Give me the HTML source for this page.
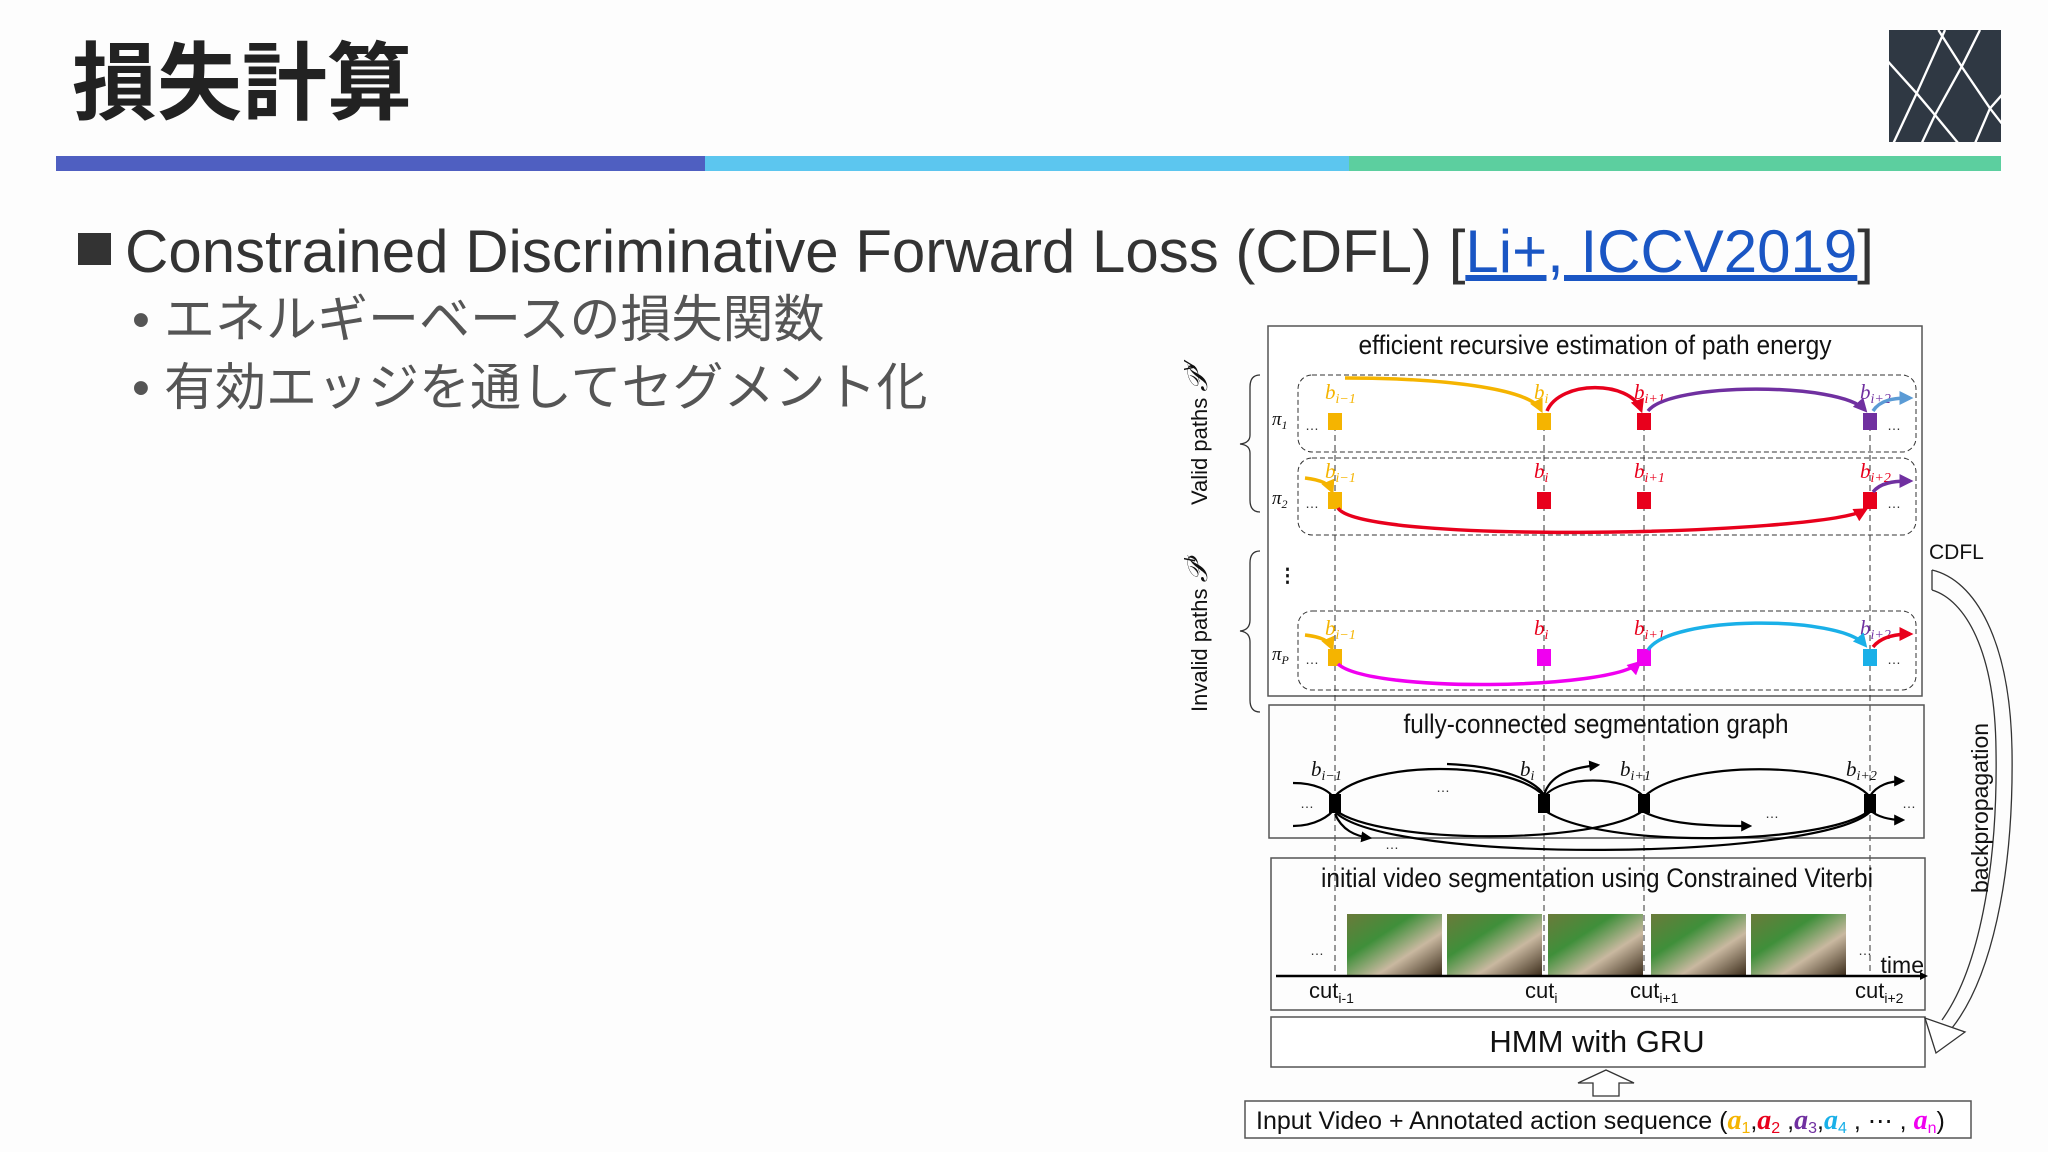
<!DOCTYPE html>
<html><head><meta charset="utf-8">
<style>
html,body{margin:0;padding:0;background:#fdfdfd;}
svg{display:block;}
.dg{font-family:"Liberation Sans Narrow","Liberation Sans",sans-serif;}
</style></head>
<body>
<svg width="2048" height="1152" viewBox="0 0 2048 1152" xmlns="http://www.w3.org/2000/svg">
<defs>
<marker id="ay" markerWidth="4" markerHeight="4" refX="3" refY="2" orient="auto" markerUnits="strokeWidth"><path d="M0,0 L4,2 L0,4 z" fill="#f5b400"/></marker>
<marker id="ar" markerWidth="4" markerHeight="4" refX="3" refY="2" orient="auto" markerUnits="strokeWidth"><path d="M0,0 L4,2 L0,4 z" fill="#e8001c"/></marker>
<marker id="ap" markerWidth="4" markerHeight="4" refX="3" refY="2" orient="auto" markerUnits="strokeWidth"><path d="M0,0 L4,2 L0,4 z" fill="#7030a0"/></marker>
<marker id="ab" markerWidth="4" markerHeight="4" refX="3" refY="2" orient="auto" markerUnits="strokeWidth"><path d="M0,0 L4,2 L0,4 z" fill="#5b9bd5"/></marker>
<marker id="ac" markerWidth="4" markerHeight="4" refX="3" refY="2" orient="auto" markerUnits="strokeWidth"><path d="M0,0 L4,2 L0,4 z" fill="#1ab0e8"/></marker>
<marker id="am" markerWidth="4" markerHeight="4" refX="3" refY="2" orient="auto" markerUnits="strokeWidth"><path d="M0,0 L4,2 L0,4 z" fill="#f000f0"/></marker>
<marker id="ak" markerWidth="5" markerHeight="5" refX="4" refY="2.5" orient="auto" markerUnits="strokeWidth"><path d="M0,0 L5,2.5 L0,5 z" fill="#000"/></marker>
<clipPath id="logoclip"><rect x="1889" y="30" width="112" height="112"/></clipPath>
<linearGradient id="fr" x1="0" y1="0" x2="1" y2="1"><stop offset="0" stop-color="#6a7a3a"/><stop offset="0.35" stop-color="#3f8f3a"/><stop offset="0.65" stop-color="#c9b8a0"/><stop offset="1" stop-color="#3a2b1a"/></linearGradient>
</defs>

<text x="72" y="113" font-family="'Noto Sans CJK JP',sans-serif" font-weight="bold" font-size="85" fill="#222">損失計算</text>
<g>
<rect x="1889" y="30" width="112" height="112" fill="#2f3843"/>
<g clip-path="url(#logoclip)">
<g transform="translate(1880,20) scale(0.3333)" stroke="#fff" stroke-width="7" fill="none">
<polyline points="175,30 245,140 330,265 365,310"/>
<polyline points="195,30 110,220 40,370"/>
<polyline points="300,30 245,140 165,285 125,370"/>
<polyline points="20,120 110,220 165,285 235,370"/>
<polyline points="370,220 330,265 285,370"/>
</g>
</g>
</g>
<g>
<rect x="56" y="156" width="649" height="15" fill="#4f5fc1"/>
<rect x="705" y="156" width="644" height="15" fill="#5cc6ef"/>
<rect x="1349" y="156" width="652" height="15" fill="#5ccf9f"/>
</g>

<rect x="78" y="233" width="33" height="32" fill="#333"/>
<text x="125" y="272" font-family="'Liberation Sans',sans-serif" font-size="60" fill="#333">Constrained Discriminative Forward Loss (CDFL) [<tspan fill="#1a56c4" text-decoration="underline">Li+, ICCV2019</tspan>]</text>
<text x="132" y="337" font-family="'Liberation Sans','Noto Sans CJK JP',sans-serif" font-size="51" fill="#555">• エネルギーベースの損失関数</text>
<text x="132" y="405" font-family="'Liberation Sans','Noto Sans CJK JP',sans-serif" font-size="51" fill="#555">• 有効エッジを通してセグメント化</text>

<g class="dg">
<rect x="1268" y="326" width="654" height="370" fill="#fff" stroke="#555" stroke-width="1.5"/>
<text x="1595" y="354" font-size="27" text-anchor="middle" fill="#111" textLength="473" lengthAdjust="spacingAndGlyphs">efficient recursive estimation of path energy</text>
<rect x="1298" y="375" width="618" height="77" rx="14" fill="none" stroke="#333" stroke-dasharray="5,3"/>
<rect x="1298" y="458" width="618" height="77" rx="14" fill="none" stroke="#333" stroke-dasharray="5,3"/>
<rect x="1298" y="611" width="618" height="79" rx="14" fill="none" stroke="#333" stroke-dasharray="5,3"/>

<text transform="translate(1207,505) rotate(-90)" font-family="'Liberation Sans',sans-serif" font-size="22" fill="#111">Valid paths <tspan font-family="'Liberation Serif',serif" font-style="italic" font-size="28">𝒫</tspan><tspan font-size="16" dy="-12" font-style="italic">V</tspan></text>
<text transform="translate(1207,712) rotate(-90)" font-family="'Liberation Sans',sans-serif" font-size="22" fill="#111">Invalid paths <tspan font-family="'Liberation Serif',serif" font-style="italic" font-size="28">𝒫</tspan><tspan font-size="16" dy="-12" font-style="italic">I</tspan></text>
<path d="M1260,375 Q1250,375 1250,387 L1250,435 Q1250,443 1240,444 Q1250,445 1250,453 L1250,500 Q1250,512 1260,512" fill="none" stroke="#333" stroke-width="1.3"/>
<path d="M1260,551 Q1250,551 1250,563 L1250,620 Q1250,630 1240,631 Q1250,632 1250,642 L1250,700 Q1250,712 1260,712" fill="none" stroke="#333" stroke-width="1.3"/>
<g font-family="'Liberation Serif',serif" font-style="italic" font-size="19" fill="#111">
<text x="1272" y="425">π<tspan font-size="12" dy="4">1</tspan></text>
<text x="1272" y="504">π<tspan font-size="12" dy="4">2</tspan></text>
<text x="1272" y="660">π<tspan font-size="12" dy="4">P</tspan></text>
<text x="1278" y="582" font-style="normal" font-weight="bold">⋮</text>
</g>
<g font-size="14" fill="#333">
<text x="1305" y="430">…</text><text x="1887" y="430">…</text>
<text x="1305" y="508">…</text><text x="1887" y="508">…</text>
<text x="1305" y="664">…</text><text x="1887" y="664">…</text>
</g>

<g stroke="#333" stroke-width="1" stroke-dasharray="6,4">
<line x1="1335" y1="425" x2="1335" y2="976"/>
<line x1="1544" y1="425" x2="1544" y2="976"/>
<line x1="1644" y1="425" x2="1644" y2="976"/>
<line x1="1870" y1="425" x2="1870" y2="976"/>
</g>

<g id="squares"></g>
<g id="blabels" font-family="'Liberation Serif',serif" font-style="italic"></g>

<g fill="none" stroke-width="3.5">
<path d="M1345,378 C1440,378 1530,388 1541,410" stroke="#f5b400" marker-end="url(#ay)"/>
<path d="M1547,411 C1560,380 1630,380 1641,410" stroke="#e8001c" marker-end="url(#ar)"/>
<path d="M1648,411 C1670,382 1840,382 1865,410" stroke="#7030a0" marker-end="url(#ap)"/>
<path d="M1873,411 C1880,400 1893,398 1910,398" stroke="#5b9bd5" marker-end="url(#ab)"/>
<path d="M1305,478 C1322,480 1329,484 1332,491" stroke="#f5b400" marker-end="url(#ay)"/>
<path d="M1338,508 C1360,545 1820,535 1865,510" stroke="#e8001c" marker-end="url(#ar)"/>
<path d="M1873,492 C1880,483 1893,481 1910,481" stroke="#7030a0" marker-end="url(#ap)"/>
<path d="M1305,635 C1322,637 1329,641 1332,648" stroke="#f5b400" marker-end="url(#ay)"/>
<path d="M1338,664 C1370,693 1610,690 1639,663" stroke="#f000f0" marker-end="url(#am)"/>
<path d="M1648,650 C1670,615 1840,615 1865,645" stroke="#1ab0e8" marker-end="url(#ac)"/>
<path d="M1873,647 C1880,638 1893,634 1910,634" stroke="#e8001c" marker-end="url(#ar)"/>
</g>

<text x="1929" y="559" font-family="'Liberation Sans',sans-serif" font-size="21" fill="#111">CDFL</text>

<rect x="1269" y="705" width="655" height="133" fill="none" stroke="#555" stroke-width="1.5"/>
<text x="1596" y="733" font-size="27" text-anchor="middle" fill="#111" textLength="385" lengthAdjust="spacingAndGlyphs">fully-connected segmentation graph</text>
<g fill="none" stroke="#000" stroke-width="2.2">
<path d="M1293,783 C1315,783 1330,790 1335,800"/>
<path d="M1293,826 C1315,826 1330,816 1335,808"/>
<path d="M1335,796 C1370,760 1510,760 1544,796"/>
<path d="M1447,764 C1500,766 1535,780 1544,795"/>
<path d="M1544,795 C1550,775 1570,768 1598,765" marker-end="url(#ak)"/>
<path d="M1544,797 C1560,775 1625,775 1644,797"/>
<path d="M1644,797 C1680,760 1840,760 1870,797"/>
<path d="M1870,796 C1877,785 1890,781 1903,781" marker-end="url(#ak)"/>
<path d="M1870,810 C1877,817 1890,820 1903,820" marker-end="url(#ak)"/>
<path d="M1335,810 C1380,845 1600,845 1644,810"/>
<path d="M1544,810 C1600,850 1830,845 1870,810"/>
<path d="M1335,812 C1390,865 1820,860 1870,812"/>
<path d="M1644,812 C1670,825 1710,826 1750,826" marker-end="url(#ak)"/>
<path d="M1335,814 C1342,830 1355,836 1370,838" marker-end="url(#ak)"/>
</g>
<g font-size="14" fill="#333"><text x="1300" y="808">…</text><text x="1436" y="792">…</text><text x="1765" y="818">…</text><text x="1902" y="808">…</text><text x="1385" y="849">…</text></g>

<rect x="1271" y="858" width="654" height="152" fill="none" stroke="#555" stroke-width="1.5"/>
<text x="1597" y="887" font-size="27" text-anchor="middle" fill="#111" textLength="552" lengthAdjust="spacingAndGlyphs">initial video segmentation using Constrained Viterbi</text>
<g id="frames"></g>
<text x="1310" y="955" font-size="14" fill="#333">…</text><text x="1858" y="955" font-size="14" fill="#333">…</text>
<line x1="1276" y1="976" x2="1922" y2="976" stroke="#000" stroke-width="2.5"/>
<path d="M1928,976 l-8,-4 v8 z" fill="#000"/>
<text x="1924" y="973" font-size="23" text-anchor="end" fill="#111">time</text>
<g font-size="22" fill="#111">
<text x="1309" y="998">cut<tspan font-size="14" dy="5">i-1</tspan></text>
<text x="1525" y="998">cut<tspan font-size="14" dy="5">i</tspan></text>
<text x="1630" y="998">cut<tspan font-size="14" dy="5">i+1</tspan></text>
<text x="1855" y="998">cut<tspan font-size="14" dy="5">i+2</tspan></text>
</g>

<rect x="1271" y="1017" width="654" height="50" fill="#fff" stroke="#555" stroke-width="1.5"/>
<text x="1597" y="1052" font-size="31" text-anchor="middle" fill="#111">HMM with GRU</text>
<path d="M1593,1096 v-13 h-15 l28,-13 l28,13 h-15 v13 z" fill="#fff" stroke="#333" stroke-width="1.3"/>
<rect x="1245" y="1101" width="726" height="37" fill="#fff" stroke="#555" stroke-width="1.5"/>
<text x="1256" y="1129" font-size="25" fill="#111">Input Video + Annotated action sequence (<tspan font-family="'Liberation Serif',serif" font-style="italic" font-weight="bold" fill="#f5b400" font-size="28">a</tspan><tspan font-size="16" dy="4" fill="#f5b400">1</tspan><tspan dy="-4">,</tspan><tspan font-family="'Liberation Serif',serif" font-style="italic" font-weight="bold" fill="#e8001c" font-size="28">a</tspan><tspan font-size="16" dy="4" fill="#e8001c">2</tspan><tspan dy="-4"> ,</tspan><tspan font-family="'Liberation Serif',serif" font-style="italic" font-weight="bold" fill="#7030a0" font-size="28">a</tspan><tspan font-size="16" dy="4" fill="#7030a0">3</tspan><tspan dy="-4">,</tspan><tspan font-family="'Liberation Serif',serif" font-style="italic" font-weight="bold" fill="#1ab0e8" font-size="28">a</tspan><tspan font-size="16" dy="4" fill="#1ab0e8">4</tspan><tspan dy="-4"> , ⋯ , </tspan><tspan font-family="'Liberation Serif',serif" font-style="italic" font-weight="bold" fill="#f000f0" font-size="28">a</tspan><tspan font-size="16" dy="4" fill="#f000f0">n</tspan><tspan dy="-4">)</tspan></text>

<g fill="none" stroke="#333" stroke-width="1.3">
<path d="M1932,570 C1975,580 2010,640 2012,750 C2014,880 1990,980 1952,1028"/>
<path d="M1932,590 C1965,600 1995,650 1996,750 C1998,870 1978,970 1942,1020"/>
<line x1="1932" y1="570" x2="1932" y2="590"/>
<path d="M1925,1018 L1936,1053 L1965,1032 z" fill="#fff"/>
</g>
<text transform="translate(1988,808) rotate(-90)" font-family="'Liberation Sans',sans-serif" font-size="23" fill="#111" text-anchor="middle">backpropagation</text>
</g>
</svg>
<script>
const columns = [1335, 1544, 1644, 1870];
const rowY = [421, 500, 657];
const squareColors = [
  ["#f5b400","#f5b400","#e8001c","#7030a0"],
  ["#f5b400","#e8001c","#e8001c","#e8001c"],
  ["#f5b400","#f000f0","#f000f0","#1ab0e8"]
];
const labelColors = [
  ["#f5b400","#f5b400","#e8001c","#7030a0"],
  ["#f5b400","#e8001c","#e8001c","#e8001c"],
  ["#f5b400","#e8001c","#e8001c","#7030a0"]
];
const subs = ["i−1","i","i+1","i+2"];
const NS = "http://www.w3.org/2000/svg";
const sq = document.getElementById("squares");
const bl = document.getElementById("blabels");
rowY.forEach((y, r) => {
  columns.forEach((x, c) => {
    const rc = document.createElementNS(NS, "rect");
    rc.setAttribute("x", x - 7); rc.setAttribute("y", y - 8);
    rc.setAttribute("width", 14); rc.setAttribute("height", 17);
    rc.setAttribute("fill", squareColors[r][c]);
    
    
    sq.appendChild(rc);
    const t = document.createElementNS(NS, "text");
    t.setAttribute("x", x - 10); t.setAttribute("y", y - 22);
    t.setAttribute("fill", labelColors[r][c]);
    t.setAttribute("font-size", "21");
    t.innerHTML = 'b<tspan font-size="14" dy="4">' + subs[c] + '</tspan>';
    
    
    bl.appendChild(t);
  });
});
columns.forEach((x, c) => {
  const rc = document.createElementNS(NS, "rect");
  rc.setAttribute("x", x - 6); rc.setAttribute("y", 794);
  rc.setAttribute("width", 12); rc.setAttribute("height", 19);
  rc.setAttribute("fill", "#000");
  
  
  sq.appendChild(rc);
  const t = document.createElementNS(NS, "text");
  t.setAttribute("x", x - 24); t.setAttribute("y", 776);
  t.setAttribute("fill", "#111");
  t.setAttribute("font-size", "21");
  t.innerHTML = 'b<tspan font-size="14" dy="4">' + subs[c] + '</tspan>';
  
  
  bl.appendChild(t);
});
const frameX = [1347, 1447, 1548, 1651, 1751];
const fr = document.getElementById("frames");
frameX.forEach((x) => {
  const rc = document.createElementNS(NS, "rect");
  rc.setAttribute("x", x); rc.setAttribute("y", 914);
  rc.setAttribute("width", 95); rc.setAttribute("height", 62);
  rc.setAttribute("fill", "url(#fr)");
  
  
  fr.appendChild(rc);
});
</script>
</body></html>
